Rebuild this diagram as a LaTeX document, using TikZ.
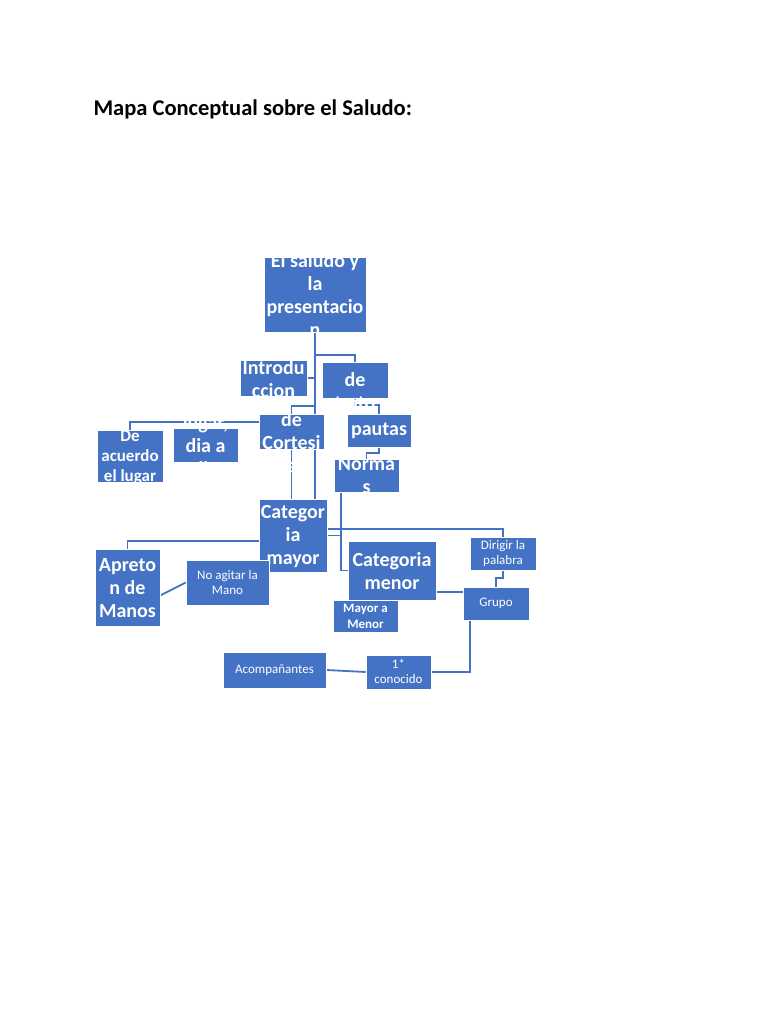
\documentclass[tikz,border=0pt]{standalone}
\usepackage{fontspec}
\setmainfont{Carlito}
\usetikzlibrary{positioning}
\definecolor{boxblue}{HTML}{4472C4}
\definecolor{lineblue}{HTML}{4472C4}
\pgfdeclarelayer{bg}
\pgfsetlayers{bg,main}
\tikzset{
  box/.style={fill=boxblue, draw=white, line width=0.6pt, inner sep=0pt},
  big/.style={text=white, font=\bfseries\fontsize{20}{23}\selectfont, align=center, inner sep=0pt},
  mid/.style={text=white, font=\bfseries\fontsize{17}{20}\selectfont, align=center, inner sep=0pt},
  small/.style={text=white, font=\fontsize{13}{15.5}\selectfont, align=center, inner sep=0pt},
  smallb/.style={text=white, font=\bfseries\fontsize{13}{15.5}\selectfont, align=center, inner sep=0pt},
  link/.style={draw=lineblue, line width=1.8pt}
}
\begin{document}
\begin{tikzpicture}[x=1pt, y=-1pt]
  \useasboundingbox (0,0) rectangle (768,1024);
  \node[anchor=base west, font=\bfseries\fontsize{22.5}{27}\selectfont] (titulo) at (90,116) {Mapa Conceptual sobre el Saludo:};
  % cajas
  \node[box, minimum width=102, minimum height=75] (saludo) at (315,294.5) {};
  \node[big] (saludo-t) at (315,295) {El saludo y\\la\\presentacio\\n};
  \node[box, minimum width=65, minimum height=35] (cortesia) at (291.5,431.5) {};
  \node[big] (cortesia-t) at (291.5,443) {de\\Cortesi\\a};
  \node[box, minimum width=67, minimum height=36] (intro) at (273.5,378) {};
  \node[big] (intro-t) at (273.5,379) {Introdu\\ccion};
  \node[box, minimum width=66, minimum height=36] (trato) at (355,380) {};
  \node[big] (trato-t) at (355,391) {de\\trato};
  \node[box, minimum width=64, minimum height=33] (pautas) at (379,430.5) {};
  \node[big] (pautas-t) at (379,431) {pautas};
  \node[box, minimum width=65, minimum height=33] (normas) at (366.5,475.5) {};
  \node[big] (normas-t) at (366.5,476) {Norma\\s};
  \node[box, minimum width=66, minimum height=52] (lugar) at (130,456) {};
  \node[mid] (lugar-t) at (130,457) {De\\acuerdo\\el lugar};
  \node[box, minimum width=65, minimum height=34] (dia) at (205.5,445) {};
  \node[big] (dia-t) at (205.5,446) {lugar,\\dia a\\dia};
  \node[box, minimum width=68, minimum height=73] (catmayor) at (293,535.5) {};
  \node[big] (catmayor-t) at (293,537) {Categor\\ia\\mayor};
  \node[box, minimum width=65, minimum height=77] (apreton) at (127.5,587.5) {};
  \node[big] (apreton-t) at (127.5,588) {Apreto\\n de\\Manos};
  \node[box, minimum width=83, minimum height=45] (agitar) at (227.5,582.5) {};
  \node[small] (agitar-t) at (227.5,582.5) {No agitar la\\Mano};
  \node[box, minimum width=88, minimum height=59] (catmenor) at (392,570.5) {};
  \node[big] (catmenor-t) at (392,571.5) {Categoria\\menor};
  \node[box, minimum width=66, minimum height=33] (dirigir) at (503,553.5) {};
  \node[small] (dirigir-t) at (503,553.5) {Dirigir la\\palabra};
  \node[box, minimum width=66, minimum height=33] (grupo) at (496,603.5) {};
  \node[small] (grupo-t) at (496,603.5) {Grupo};
  \node[box, minimum width=65, minimum height=32] (mayormenor) at (365.5,616) {};
  \node[smallb] (mayormenor-t) at (365.5,616.5) {Mayor a\\Menor};
  \node[box, minimum width=103, minimum height=36] (acomp) at (274.5,670) {};
  \node[small] (acomp-t) at (274.5,670) {Acompañantes};
  \node[box, minimum width=65, minimum height=34] (conocido) at (398.5,672) {};
  \node[small] (conocido-t) at (398.5,671.5) {1*\\conocido};
  % puntos de union
  \coordinate (j1) at (315,355);
  \coordinate (j2) at (315,406);
  \coordinate (j3) at (259,422);
  \coordinate (j4) at (341,492);
  \coordinate (j5) at (327,529);
  \coordinate (j6) at (259,541);
  \begin{pgfonlayer}{bg}
    \draw[link] (saludo.south) -- (saludo.south |- catmayor.north);
    \draw[link] (j1) -| (trato.north);
    \draw[link, line width=2.2pt] (intro.east) -- (intro.east -| saludo.south);
    \draw[link] (j2) -| (cortesia.center |- catmayor.north);
    \draw[link] (trato.south) -- (355,405) -| (pautas.north);
    \draw[link] (pautas.south) -- (379,453) -| (normas.north);
    \draw[link] (j3) -| (lugar.north);
    \draw[link] (j4) |- (catmenor.west);
    \draw[link] (j5) -| (dirigir.north);
    \draw[link] (catmayor.east) -- (catmayor.east -| j4);
    \draw[link] (j6) -| (apreton.north);
    \draw[link] ([yshift=-8pt]apreton.east) -- (agitar.west);
    \draw[link] (dirigir.south) -- (503,578) -| (grupo.north);
    \draw[link] (catmenor.east |- 0,592) -- (grupo.west |- 0,592);
    \draw[link] ([xshift=-26pt]grupo.south) |- (conocido.east);
    \draw[link] (conocido.west) -- (acomp.east);
  \end{pgfonlayer}
\end{tikzpicture}
\end{document}
